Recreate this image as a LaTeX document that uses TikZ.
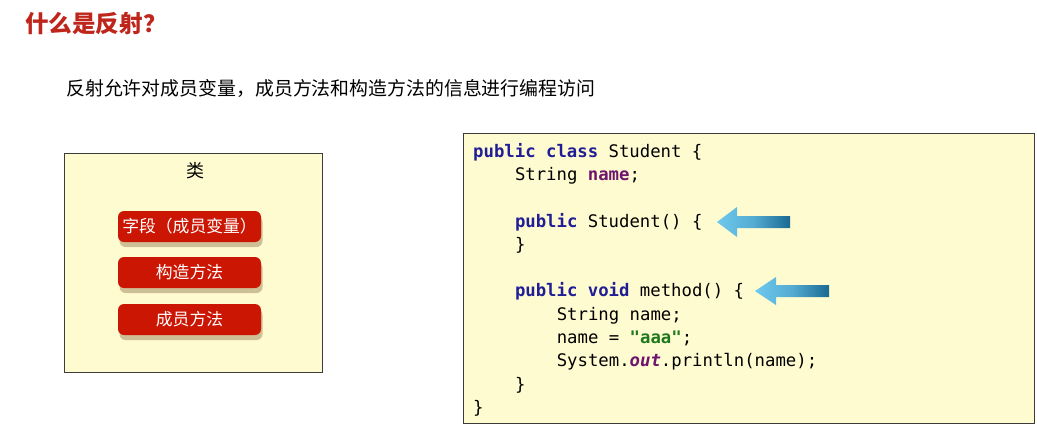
\documentclass[tikz,border=0pt]{standalone}
\usepackage{fontspec}
\newfontfamily\cjk{Noto Sans CJK SC}
\newfontfamily\codefont{DejaVu Sans Mono}
\usetikzlibrary{shadows}
\definecolor{titlered}{RGB}{190,38,28}
\definecolor{boxfill}{RGB}{255,251,208}
\definecolor{boxline}{RGB}{60,60,60}
\definecolor{btnred}{RGB}{204,22,4}
\definecolor{btnshadow}{RGB}{205,192,150}
\definecolor{kw}{RGB}{32,30,150}
\definecolor{purp}{RGB}{110,20,110}
\definecolor{strgreen}{RGB}{30,120,30}
\definecolor{arrlight}{RGB}{110,200,238}
\definecolor{arrdark}{RGB}{25,105,145}
\begin{document}
\begin{tikzpicture}[x=1pt,y=-1pt,
  panel/.style={draw=boxline, line width=1pt, fill=boxfill, anchor=north west, inner sep=0},
  btn/.style={fill=btnred, rounded corners=6pt, minimum width=143pt, minimum height=31pt, inner sep=0,
     text=white, font=\cjk\fontsize{16.8}{19}\selectfont,
     drop shadow={shadow xshift=1.5pt, shadow yshift=-5pt, fill=btnshadow, opacity=1}},
  code/.style={anchor=base west, inner sep=0, font=\codefont\fontsize{17.3}{20}\selectfont},
  ptr/.style={left color=arrlight, right color=arrdark, middle color=arrlight!70!arrdark}
]
\useasboundingbox (0,0) rectangle (1037,432);
\node[anchor=west, inner sep=0, text=titlered, font=\cjk\bfseries\fontsize{23.6}{27}\selectfont] (title) at (25,24) {什么是反射？};
\node[anchor=west, inner sep=0, font=\cjk\fontsize{18.9}{22}\selectfont] (intro) at (66,88) {反射允许对成员变量，成员方法和构造方法的信息进行编程访问};

\node[panel, minimum width=258pt, minimum height=219pt] (classbox) at (64,153) {};
\node[inner sep=0, font=\cjk\fontsize{18}{20}\selectfont] (lei) at (195,171) {类};
\node[btn] (field) at (189.5,226.5) {字段（成员变量）};
\node[btn] (ctor) at (189.5,272.5) {构造方法};
\node[btn] (meth) at (189.5,319.5) {成员方法};

\node[panel, minimum width=571pt, minimum height=290pt] (codebox) at (463,133) {};
\def\cw{10.45}
\node[code] (l1) at (473,157) {\textcolor{kw}{\bfseries public class} Student \{};
\node[code] (l2) at (473+4*\cw,180.3) {String \textcolor{purp}{\bfseries name};};
\node[code] (l4) at (473+4*\cw,227) {\textcolor{kw}{\bfseries public} Student() \{};
\node[code] (l5) at (473+4*\cw,250.3) {\}};
\node[code] (l7) at (473+4*\cw,296.5) {\textcolor{kw}{\bfseries public void} method() \{};
\node[code] (l8) at (473+8*\cw,320) {String name;};
\node[code] (l9) at (473+8*\cw,343.4) {name = \textcolor{strgreen}{\bfseries "aaa"};};
\node[code] (l10) at (473+8*\cw,366.8) {System.\textcolor{purp}{\bfseries\itshape out}.println(name);};
\node[code] (l11) at (473+4*\cw,390.1) {\}};
\node[code] (l12) at (473,413.5) {\}};

\shade[ptr] (717,222) -- (737,207) -- (737,216) -- (790,216) -- (790,228) -- (737,228) -- (737,237) -- cycle;
\shade[ptr] (755,291) -- (776,277) -- (776,285) -- (829,285) -- (829,297) -- (776,297) -- (776,305) -- cycle;
\end{tikzpicture}
\end{document}
